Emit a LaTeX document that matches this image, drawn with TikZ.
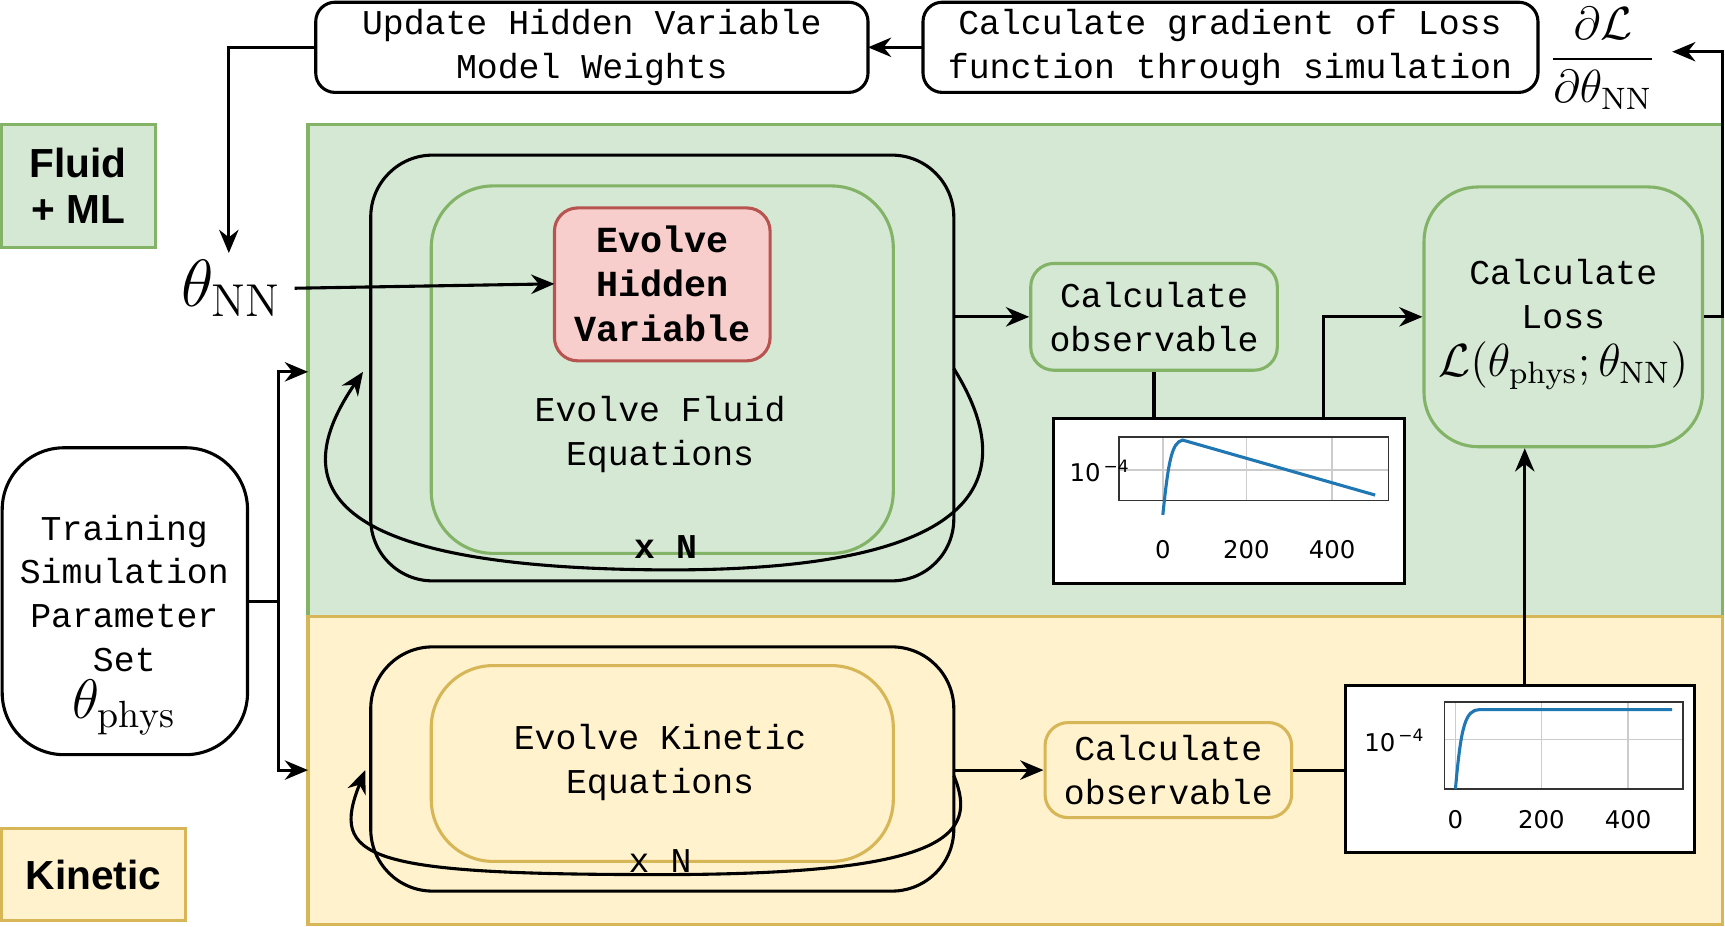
\documentclass[tikz,border=0pt]{standalone}
\usepackage{fontspec}
\setmonofont{Liberation Mono}
\setsansfont{Liberation Sans}
\newfontfamily\plotfont{DejaVu Sans}
\usetikzlibrary{arrows.meta}
\definecolor{gfill}{HTML}{D5E8D4}\definecolor{gdraw}{HTML}{82B366}
\definecolor{yfill}{HTML}{FFF2CC}\definecolor{ydraw}{HTML}{D6B656}
\definecolor{rfill}{HTML}{F8CECC}\definecolor{rdraw}{HTML}{B85450}
\definecolor{pblue}{HTML}{1F77B4}
\begin{document}
\begin{tikzpicture}[x=0.01cm,y=-0.01cm,
  mono/.style={font=\ttfamily\fontsize{9}{11.3}\selectfont,align=center},
  arr/.style={-{Stealth[length=6pt,width=5pt]},thick},
  ln/.style={thick},
  tick/.style={font=\plotfont\fontsize{6.3}{7}\selectfont}]
\useasboundingbox (0,0) rectangle (1568,842);
\fill[gfill,draw=gdraw,thick] (280,113) rectangle (1566,560);
\fill[yfill,draw=ydraw,thick] (280,560) rectangle (1566,840);
\draw[gdraw,fill=gfill,thick] (1,113) rectangle (141,225);
\node[font=\sffamily\bfseries\fontsize{10.5}{12}\selectfont,align=center] (flt) at (71,169) {Fluid\\+ ML};
\draw[ydraw,fill=yfill,thick] (1,753) rectangle (169,837);
\node[font=\sffamily\bfseries\fontsize{10.5}{12}\selectfont] (kin) at (85,795) {Kinetic};
% top boxes
\draw[thick,rounded corners=5pt,fill=white] (287,2) rectangle (789,84);
\node[mono] (updt) at (538,43) {Update Hidden Variable\\Model Weights};
\draw[thick,rounded corners=5pt,fill=white] (839,2) rectangle (1398,84);
\node[mono] (grad) at (1118,43) {Calculate gradient of Loss\\function through simulation};
\node[font=\fontsize{12}{14}\selectfont] (frac) at (1457,53) {$\displaystyle\frac{\partial\mathcal{L}}{\partial\theta_{\mathrm{NN}}}$};
\coordinate (gl) at (839,43); \coordinate (ur) at (789,43);
\draw[arr] (gl) -- (ur);
\coordinate (ul) at (287,43);
\node[font=\fontsize{17}{19}\selectfont] (thnn) at (210,262) {$\theta_{\mathrm{NN}}$};
\draw[arr] (ul) -- (208,43) -- (208,230);
% fluid
\draw[thick,rounded corners=16pt] (337,141) rectangle (867,528);
\draw[gdraw,thick,rounded corners=16pt,fill=gfill] (392,169) rectangle (812,503);
\draw[rdraw,fill=rfill,thick,rounded corners=6pt] (504,189) rectangle (700,328);
\node[align=center,font=\ttfamily\bfseries\fontsize{9.5}{11.5}\selectfont] (hid) at (602,258) {Evolve\\Hidden\\Variable};
\coordinate (hidl) at (504,258);
\draw[arr] (thnn.east) -- (hidl);
\node[mono] (ef) at (600,395) {Evolve Fluid\\Equations};
\node[font=\ttfamily\bfseries\fontsize{9}{10}\selectfont] (xn1) at (605,497) {x N};
\draw[arr] (867,335) .. controls (920,420) and (920,520) .. (600,518) .. controls (290,516) and (260,440) .. (330,338);
\node[draw=gdraw,fill=gfill,thick,rounded corners=6pt,mono,minimum width=2.24cm,minimum height=0.97cm] (obs1) at (1049,288) {Calculate\\observable};
\draw[arr] (867,288) -- (obs1.west);
\node[draw=gdraw,fill=gfill,thick,rounded corners=14pt,minimum width=2.53cm,minimum height=2.36cm] (loss) at (1421,288) {};
\node[align=center,mono] (losst) at (1421,295) {Calculate\\Loss\\[1pt]\rmfamily\fontsize{12}{14}\selectfont$\mathcal{L}(\theta_{\mathrm{phys}};\theta_{\mathrm{NN}})$};
\draw[arr] (loss.east) -- (1566,288) -- (1566,47) -- (1520,47);
% plot 1
\draw[thick,fill=white] (958,380) rectangle (1277,530);
\coordinate (p1t) at (1049,380); \coordinate (p1r) at (1203,380);
\draw[ln] (obs1.south) -- (p1t);
\draw[arr] (p1r) -- (1203,288) -- (loss.west);
\draw[gray!40] (1057,397) -- (1057,455) (1133,397)--(1133,455) (1211,397)--(1211,455) (1017,427)--(1262,427);
\draw[black!80] (1017,397) rectangle (1262,455);
\draw[pblue,thick] (1057,468) .. controls (1062,420) and (1065,402) .. (1075,400) -- (1250,450);
\node[tick] at (1057,500) {0};
\node[tick] at (1133,500) {200};
\node[tick] at (1211,500) {400};
\node[tick] at (1000,428) {10\textsuperscript{\,−4}};
% kinetic
\draw[thick,rounded corners=16pt] (337,588) rectangle (867,810);
\draw[ydraw,thick,rounded corners=16pt,fill=yfill] (392,605) rectangle (812,783);
\node[mono] (ek) at (600,693) {Evolve Kinetic\\Equations};
\node[font=\ttfamily\fontsize{9}{10}\selectfont] (xn2) at (600,783) {x N};
\draw[arr] (867,705) .. controls (890,760) and (860,795) .. (600,795) .. controls (330,795) and (300,780) .. (332,700);
\node[draw=ydraw,fill=yfill,thick,rounded corners=6pt,mono,minimum width=2.24cm,minimum height=0.84cm] (obs2) at (1062,700) {Calculate\\observable};
\draw[arr] (867,700) -- (obs2.west);
\draw[thick,fill=white] (1223,623) rectangle (1540,775);
\coordinate (p2l) at (1223,700); \coordinate (p2t) at (1386,623);
\draw[ln] (obs2.east) -- (p2l);
\draw[arr] (p2t) -- (loss.south -| p2t);
\draw[gray!40] (1323,638)--(1323,717) (1401,638)--(1401,717) (1480,638)--(1480,717) (1313,672)--(1530,672);
\draw[black!80] (1313,638) rectangle (1530,717);
\draw[pblue,thick] (1323,717) .. controls (1328,660) and (1332,645) .. (1345,645) -- (1520,645);
\node[tick] at (1323,745) {0};
\node[tick] at (1401,745) {200};
\node[tick] at (1480,745) {400};
\node[tick] at (1268,673) {10\textsuperscript{\,−4}};
% training
\draw[thick,rounded corners=16pt,fill=white] (2,407) rectangle (225,686);
\node[mono] (tr) at (113,568) {Training\\Simulation\\Parameter\\Set\\[1pt]\rmfamily\fontsize{14}{16}\selectfont$\theta_{\mathrm{phys}}$};
\coordinate (trr) at (225,547);
\draw[ln] (trr) -- (253,547);
\draw[arr] (253,547) -- (253,338) -- (280,338);
\draw[arr] (253,547) -- (253,700) -- (280,700);
\end{tikzpicture}
\end{document}
